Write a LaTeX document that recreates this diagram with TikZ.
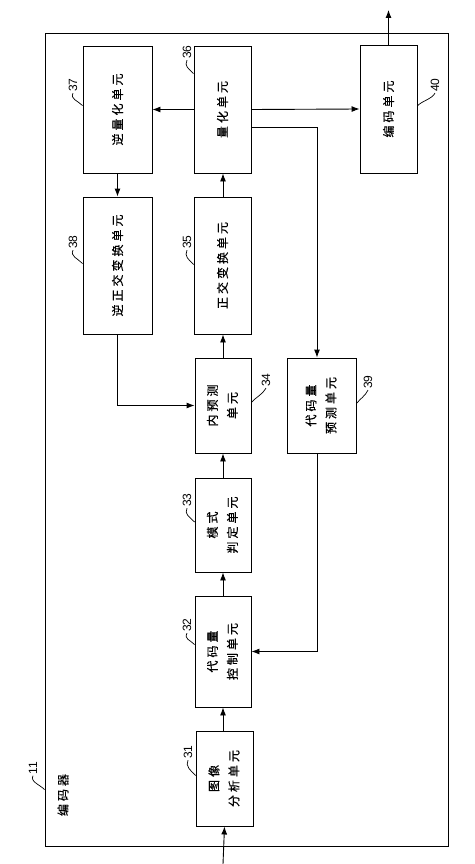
\documentclass[tikz,border=0pt]{standalone}
\usepackage{fontspec}
\setmainfont{Liberation Sans}
\newfontfamily\cjk[LetterSpace=25,FakeBold=0.5]{Noto Sans CJK SC}
\usetikzlibrary{arrows.meta,calc}
\begin{document}
\begin{tikzpicture}[x=1pt,y=-1pt,
  line width=0.9pt,
  box/.style={draw,inner sep=0pt,font=\cjk\fontsize{12}{20}\selectfont},
  num/.style={inner sep=0pt,font=\fontsize{12}{13}\selectfont},
  arr/.style={-{Latex[length=8pt,width=6pt]}},
  tl/.style={line width=0.7pt}]
\useasboundingbox (0,0) rectangle (474,864);
% frame
\node[draw,inner sep=0pt,minimum width=403pt,minimum height=813pt] (frame) at (246.5,439.5) {};
\node[inner sep=0pt,font=\cjk\fontsize{12}{14}\selectfont] (enc) at (63,795) {\rotatebox{90}{编码器}};
% boxes
\newcommand{\twol}[2]{\rotatebox{90}{\begin{tabular}{@{}c@{}}#1\\#2\end{tabular}}}
\node[box,minimum width=57pt,minimum height=95pt] (b31) at (224.5,778.5) {\twol{图像}{分析单元}};
\node[box,minimum width=56pt,minimum height=111pt] (b32) at (223,651.5) {\twol{代码量}{控制单元}};
\node[box,minimum width=56pt,minimum height=94pt] (b33) at (223,525) {\twol{模式}{判定单元}};
\node[box,minimum width=56pt,minimum height=95pt] (b34) at (223,405.5) {\twol{内预测}{单元}};
\node[box,minimum width=57pt,minimum height=137pt] (b35) at (222.5,265.5) {\rotatebox{90}{正交变换单元}};
\node[box,minimum width=57pt,minimum height=127pt] (b36) at (222.5,109.5) {\rotatebox{90}{量化单元}};
\node[box,minimum width=69pt,minimum height=127pt] (b37) at (117.5,109.5) {\rotatebox{90}{逆量化单元}};
\node[box,minimum width=69pt,minimum height=137pt] (b38) at (117.5,265.5) {\rotatebox{90}{逆正交变换单元}};
\node[box,minimum width=69pt,minimum height=95pt] (b39) at (321.5,405.5) {\twol{代码量}{预测单元}};
\node[box,minimum width=57pt,minimum height=128pt] (b40) at (388.5,109) {\rotatebox{90}{编码单元}};
% free ends
\coordinate (in) at (223,864);
\coordinate (out) at (388.5,10);
% connectors
\draw[arr] (in) -- (b31.south);
\draw[arr] (b31.north -| b32.north) -- (b32.south);
\draw[arr] (b32.north) -- (b33.south);
\draw[arr] (b33.north) -- (b34.south);
\draw[arr] (b34.north) -- (b35.south -| b34.north);
\draw[arr] (b35.north -| b34.north) -- (b36.south -| b34.north);
\draw[arr] (b36.west) -- (b37.east);
\draw[arr] (b36.east) -- (b40.west);
\draw[arr] (b37.south) -- (b38.north);
\draw[arr] (b38.south) |- (b34.west);
\draw[arr] ($(b36.east)+(0,17.5)$) -| ($(b39.north)+(-4.5,0)$);
\draw[arr] ($(b39.south)+(-4.5,0)$) |- (b32.east);
\draw[arr] (b40.north) -- (out);
% reference numerals
\node[num] (l11) at (33,768) {\rotatebox{90}{11}};
\node[num] (l31) at (188,752) {\rotatebox{90}{31}};
\node[num] (l32) at (187,625) {\rotatebox{90}{32}};
\node[num] (l33) at (187,500) {\rotatebox{90}{33}};
\node[num] (l34) at (266,380) {\rotatebox{90}{34}};
\node[num] (l35) at (187,242) {\rotatebox{90}{35}};
\node[num] (l36) at (187,52) {\rotatebox{90}{36}};
\node[num] (l37) at (73,85) {\rotatebox{90}{37}};
\node[num] (l38) at (73,242) {\rotatebox{90}{38}};
\node[num] (l39) at (368,382) {\rotatebox{90}{39}};
\node[num] (l40) at (435,85) {\rotatebox{90}{40}};
% leader tildes
\draw[tl] ($(l11.south)+(0,1)$) .. controls +(-3,6) and +(-5,-5) .. ($(frame.north west)+(0,757)$);
\draw[tl] ($(l31.south)+(0,1)$) .. controls +(-3,6) and +(-5,-5) .. ($(b31.west)+(0,-3)$);
\draw[tl] ($(l32.south)+(0,1)$) .. controls +(-3,6) and +(-5,-5) .. ($(b32.west)+(0,-7)$);
\draw[tl] ($(l33.south)+(0,1)$) .. controls +(-3,6) and +(-5,-5) .. ($(b33.west)+(0,-3)$);
\draw[tl] ($(l34.south)+(0,1)$) .. controls +(-3,6) and +(4,-5) .. ($(b34.east)+(0,-3)$);
\draw[tl] ($(l35.south)+(0,1)$) .. controls +(-3,6) and +(-5,-5) .. ($(b35.west)+(0,-1)$);
\draw[tl] ($(l36.south)+(0,1)$) .. controls +(-3,6) and +(-5,-5) .. ($(b36.north west)+(0,28)$);
\draw[tl] ($(l37.south)+(0,1)$) .. controls +(-3,6) and +(-5,-5) .. ($(b37.north west)+(0,60)$);
\draw[tl] ($(l38.south)+(0,1)$) .. controls +(-3,6) and +(-5,-5) .. ($(b38.west)+(0,-2)$);
\draw[tl] ($(l39.south)+(0,1)$) .. controls +(-3,6) and +(4,-5) .. ($(b39.east)+(0,-2)$);
\draw[tl] ($(l40.south)+(0,1)$) .. controls +(-3,6) and +(4,-5) .. ($(b40.east)+(0,-3)$);
\end{tikzpicture}
\end{document}
